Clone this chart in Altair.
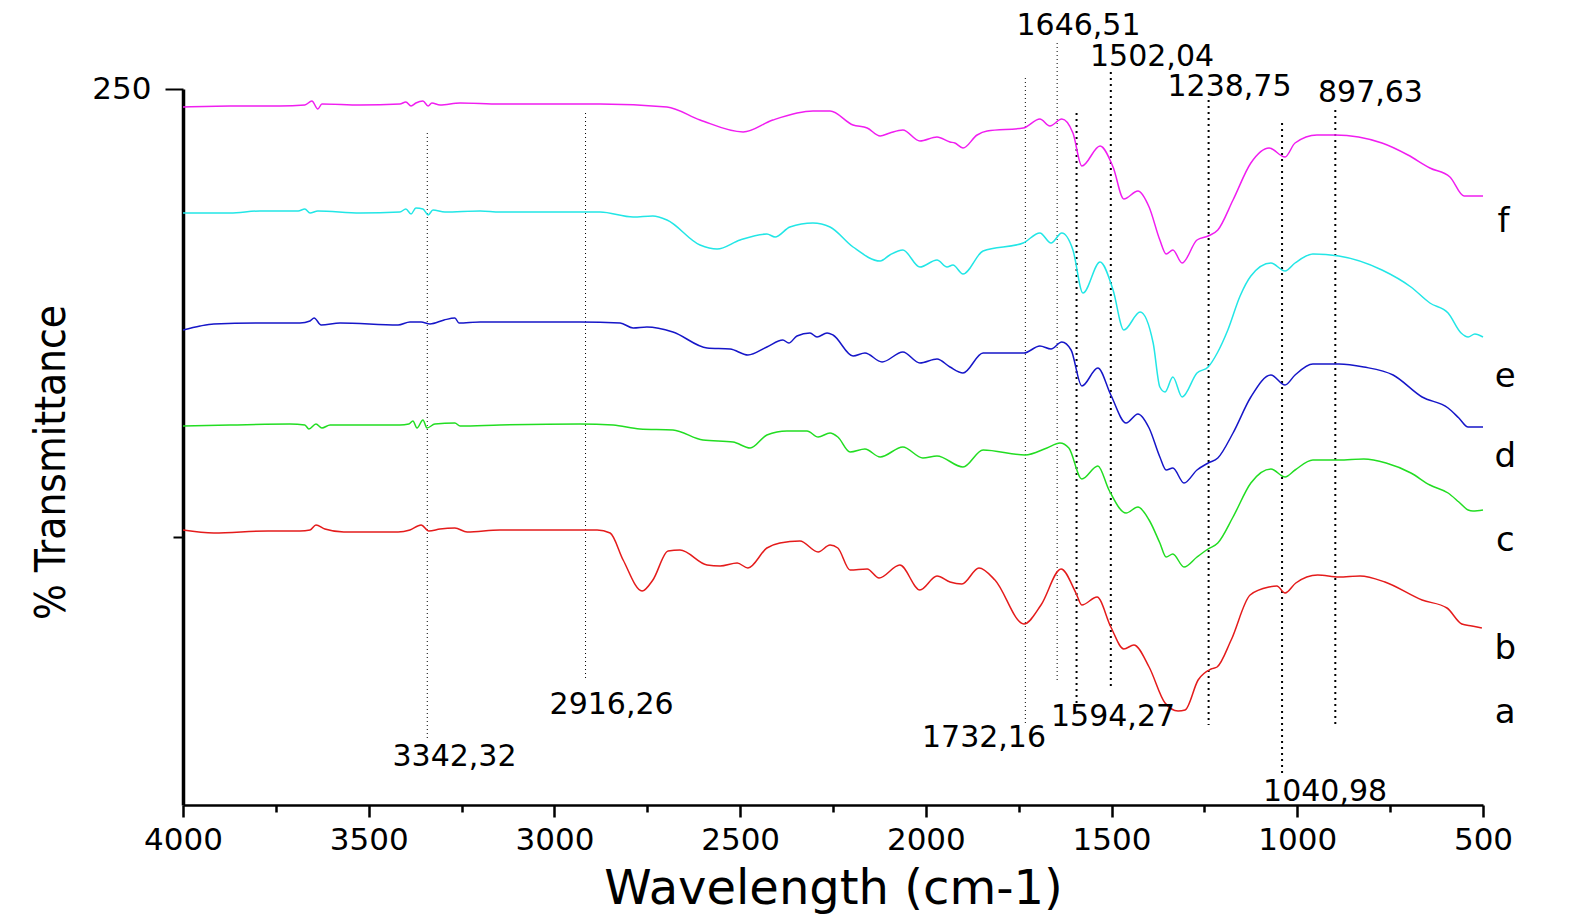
import altair as alt
import pandas as pd

# ---- FTIR spectra (wavenumber in cm-1, stacked % transmittance) ----
wn_f = [4000, 3873, 3739, 3672, 3653, 3637, 3626, 3523, 3416, 3400, 3386, 3373, 3354, 3340, 3330,
        3308, 3254, 3147, 3012, 2877, 2697, 2608, 2492, 2412, 2304, 2258, 2196, 2158, 2123, 2097,
        2062, 2016, 1970, 1935, 1922, 1900, 1862, 1835, 1738, 1693, 1666, 1634, 1604, 1580, 1531,
        1496, 1467, 1429, 1399, 1370, 1353, 1335, 1310, 1270, 1240, 1214, 1173, 1125, 1076, 1033,
        1006, 947, 898, 772, 702, 643, 589, 551, 527, 500]
t_f = [245.5, 245.75, 245.75, 246.0, 247.0, 245.0, 246.25, 246.0, 246.25, 246.75, 245.75, 246.5, 247.0,
       245.75, 246.5, 246.0, 246.5, 246.25, 246.25, 246.25, 245.5, 242.25, 239.25, 242.25, 244.5,
       244.5, 241.0, 240.25, 238.25, 239.0, 239.75, 237.0, 238.0, 236.75, 236.5, 235.25, 238.5,
       239.5, 240.25, 242.5, 240.75, 242.5, 239.0, 230.75, 235.75, 230.5, 222.5, 224.5, 220.5,
       212.25, 208.75, 209.75, 206.5, 212.25, 213.25, 214.75, 222.25, 231.5, 235.25, 233.0, 236.5,
       238.5, 238.5, 236.5, 233.5, 230.25, 228.0, 223.25, 223.25, 223.25]

wn_e = [4000, 3873, 3793, 3690, 3672, 3658, 3637, 3523, 3416, 3400, 3386, 3373, 3354, 3340, 3327,
        3295, 3200, 3147, 3012, 2877, 2788, 2735, 2697, 2608, 2562, 2500, 2428, 2406, 2366, 2304,
        2258, 2196, 2123, 2097, 2062, 2016, 1970, 1943, 1927, 1900, 1846, 1738, 1693, 1663, 1634,
        1604, 1577, 1531, 1496, 1467, 1423, 1388, 1370, 1356, 1335, 1310, 1270, 1240, 1214, 1187,
        1154, 1125, 1071, 1033, 1006, 958, 888, 772, 694, 643, 594, 559, 540, 522, 500]
t_e = [219.0, 219.0, 219.5, 219.5, 220.0, 219.0, 219.5, 219.0, 219.25, 220.0, 218.75, 220.25, 220.0,
       218.5, 219.75, 219.25, 219.5, 219.25, 219.25, 219.25, 218.0, 218.25, 217.25, 211.0, 210.0,
       212.25, 213.75, 213.0, 215.5, 216.5, 215.5, 210.5, 207.0, 208.5, 209.75, 205.5, 207.25,
       205.5, 206.0, 203.75, 209.5, 211.5, 214.0, 211.5, 214.0, 209.75, 199.0, 206.75, 199.75,
       189.75, 194.25, 186.5, 175.5, 174.25, 178.0, 173.0, 179.0, 180.5, 184.25, 189.75, 198.25,
       203.25, 206.5, 204.5, 206.5, 208.75, 208.25, 204.75, 200.5, 196.5, 194.0, 189.0, 188.0,
       188.75, 188.0]

wn_d = [4000, 3954, 3917, 3771, 3685, 3658, 3647, 3628, 3577, 3421, 3389, 3359, 3335, 3297, 3268,
        3257, 3200, 3012, 2931, 2823, 2788, 2751, 2681, 2589, 2527, 2479, 2428, 2385, 2369, 2347,
        2312, 2293, 2266, 2250, 2196, 2164, 2118, 2062, 2016, 1970, 1935, 1900, 1846, 1736, 1693,
        1663, 1634, 1609, 1580, 1537, 1502, 1461, 1429, 1399, 1370, 1353, 1335, 1305, 1270, 1240,
        1214, 1173, 1125, 1071, 1033, 1006, 958, 888, 821, 742, 664, 594, 565, 540, 500]
t_d = [189.75, 190.75, 191.25, 191.5, 191.5, 192.0, 192.75, 191.0, 191.5, 191.0, 191.75, 191.75,
       191.25, 192.25, 192.75, 191.5, 191.75, 191.75, 191.75, 191.5, 190.25, 190.5, 189.25, 185.25,
       185.0, 183.5, 185.5, 187.25, 186.5, 188.25, 189.0, 188.0, 189.0, 188.5, 183.25, 184.0,
       181.75, 184.25, 181.5, 182.5, 180.5, 179.0, 184.0, 184.0, 185.75, 185.0, 186.75, 184.75,
       175.75, 180.25, 173.5, 166.5, 168.75, 165.25, 158.0, 154.75, 155.25, 151.5, 154.75, 156.5,
       157.75, 164.0, 173.0, 178.5, 176.0, 178.5, 181.25, 181.25, 180.5, 178.5, 173.0, 170.25,
       167.75, 165.5, 165.5]

wn_c = [4000, 3873, 3712, 3672, 3661, 3642, 3626, 3604, 3416, 3392, 3381, 3370, 3354, 3343, 3322,
        3268, 3254, 3147, 2931, 2842, 2770, 2681, 2600, 2519, 2473, 2428, 2374, 2320, 2290, 2258,
        2237, 2204, 2164, 2123, 2062, 2008, 1970, 1900, 1846, 1733, 1674, 1639, 1615, 1580, 1537,
        1507, 1461, 1429, 1399, 1370, 1353, 1335, 1305, 1270, 1240, 1214, 1173, 1125, 1071, 1033,
        1006, 958, 888, 821, 761, 694, 643, 594, 565, 540, 527, 500]
t_c = [165.75, 166.0, 166.25, 166.0, 165.0, 166.25, 165.25, 166.0, 166.0, 166.25, 167.0, 165.25,
       167.25, 165.25, 166.25, 166.5, 165.75, 166.0, 166.25, 166.0, 165.0, 164.75, 162.25, 161.75,
       160.25, 163.5, 164.5, 164.5, 163.0, 164.0, 163.0, 159.25, 160.0, 158.0, 160.5, 157.75,
       158.25, 155.5, 159.75, 158.5, 160.25, 161.5, 160.25, 152.5, 155.75, 149.75, 144.0, 145.5,
       142.25, 136.5, 133.0, 133.75, 130.5, 133.0, 135.0, 136.5, 143.0, 151.5, 155.0, 153.0,
       154.75, 157.25, 157.25, 157.5, 156.5, 154.0, 151.0, 149.0, 146.75, 144.75, 144.5, 144.75]

wn_b = [4000, 3917, 3771, 3685, 3658, 3642, 3618, 3567, 3421, 3389, 3359, 3338, 3308, 3268, 3235,
        3147, 2885, 2850, 2815, 2764, 2735, 2694, 2662, 2589, 2554, 2508, 2479, 2428, 2393, 2339,
        2290, 2258, 2237, 2204, 2158, 2126, 2070, 2016, 1970, 1935, 1903, 1857, 1814, 1736, 1690,
        1636, 1596, 1580, 1539, 1502, 1467, 1440, 1399, 1356, 1321, 1302, 1267, 1232, 1216, 1178,
        1127, 1076, 1055, 1033, 1004, 945, 888, 831, 764, 664, 597, 557, 530, 503]
t_b = [139.75, 139.0, 139.5, 139.5, 139.75, 141.0, 140.0, 139.25, 139.25, 139.75, 141.0, 139.5,
       140.0, 140.25, 139.25, 139.75, 139.75, 139.0, 132.25, 124.5, 127.25, 134.5, 134.75, 131.0,
       130.75, 131.5, 130.25, 135.25, 136.5, 137.0, 134.25, 136.0, 135.25, 129.75, 130.0, 127.75,
       131.0, 124.75, 128.25, 126.75, 126.25, 130.25, 127.25, 116.25, 121.0, 130.0, 124.0, 121.0,
       123.0, 115.5, 110.0, 111.0, 105.5, 96.5, 94.5, 94.75, 102.25, 105.0, 105.5, 112.25, 123.5,
       125.5, 125.75, 124.0, 126.5, 128.5, 128.0, 128.25, 126.75, 122.25, 120.25, 116.25, 115.75,
       115.25]

series_names = ["f", "e", "d", "c", "b"]
series_colors = ["#f01ef0", "#22e6e6", "#1616c8", "#22dd22", "#e41b1b"]

# ---- peak markers ----
fine_wn = [3342.32, 2916.26, 1732.16, 1646.51]
fine_top = [239.0, 244.0, 252.75, 261.5]
fine_bottom = [87.75, 102.25, 91.5, 102.25]

bold_wn = [1594.27, 1502.04, 1238.75, 1040.98, 897.63]
bold_top = [244.0, 254.25, 247.25, 241.5, 244.75]
bold_bottom = [96.0, 100.25, 91.0, 79.0, 90.5]

peak_text = ["3342,32", "2916,26", "1732,16", "1646,51", "1594,27",
             "1502,04", "1238,75", "1040,98", "897,63"]
peak_text_wn = [3269, 2846, 1843.5, 1589, 1496, 1391, 1182.5, 925, 803]
peak_text_t = [83.0, 96.0, 87.75, 265.75, 93.0, 258.0, 250.5, 74.25, 249.0]

# ---- sample letters at the right ----
letters = ["f", "e", "d", "c", "b", "a"]
letter_wn = [445, 440, 440, 440, 440, 440]
letter_t = [216.75, 178.0, 158.0, 137.0, 110.0, 94.0]

frames = []
for name, wn, t in zip(series_names, [wn_f, wn_e, wn_d, wn_c, wn_b],
                       [t_f, t_e, t_d, t_c, t_b]):
    frames.append(pd.DataFrame({"wn": wn, "t": t, "sample": name}))
spectra = pd.concat(frames, ignore_index=True)

fine_df = pd.DataFrame({"wn": fine_wn, "top": fine_top, "bottom": fine_bottom})
bold_df = pd.DataFrame({"wn": bold_wn, "top": bold_top, "bottom": bold_bottom})
peak_df = pd.DataFrame({"wn": peak_text_wn, "t": peak_text_t, "label": peak_text})
letter_df = pd.DataFrame({"wn": letter_wn, "t": letter_t, "letter": letters})

FONT = "DejaVu Sans"

x_scale = alt.Scale(domain=[4000, 500], nice=False, zero=False)
y_scale = alt.Scale(domain=[71, 250], nice=False, zero=False)

x_axis = alt.Axis(
    title="Wavelength (cm-1)",
    values=list(range(500, 4001, 250)),
    labelExpr="datum.value % 500 == 0 ? datum.label : ''",
    format="d",
    grid=False,
    domainColor="black",
    domainWidth=2.5,
    tickColor="black",
    tickWidth=2.5,
    tickSize={"condition": {"test": "datum.value % 500 == 0", "value": 12}, "value": 7},
    labelFont=FONT,
    labelFontSize=31,
    labelColor="black",
    labelPadding=8,
    labelFlush=False,
    labelOverlap=False,
    titleFont=FONT,
    titleFontSize=48,
    titleFontWeight="normal",
    titleColor="black",
    titleBaseline="alphabetic",
    titleX=650,
    titleY=98,
)

y_axis = alt.Axis(
    title="% Transmittance",
    values=[138, 250],
    labelExpr="datum.value == 250 ? '250' : ''",
    grid=False,
    domainColor="black",
    domainWidth=3.5,
    tickColor="black",
    tickWidth=2,
    tickSize={"condition": {"test": "datum.value == 250", "value": 18}, "value": 10},
    labelFont=FONT,
    labelFontSize=31,
    labelColor="black",
    labelPadding=14,
    titleFont="Liberation Sans Narrow, DejaVu Sans Condensed, Liberation Sans",
    titleFontSize=42,
    titleFontWeight="normal",
    titleColor="black",
    titleBaseline="alphabetic",
    titleAngle=270,
    titleX=-119,
    titleY=373,
)

lines = alt.Chart(spectra).mark_line(strokeWidth=1.5, interpolate="monotone").encode(
    x=alt.X("wn:Q", scale=x_scale, axis=x_axis),
    y=alt.Y("t:Q", scale=y_scale, axis=y_axis),
    color=alt.Color("sample:N", scale=alt.Scale(domain=series_names, range=series_colors),
                    legend=None),
    detail="sample:N",
)

fine_rules = alt.Chart(fine_df).mark_rule(
    color="black", strokeWidth=1, strokeDash=[1, 3]
).encode(x="wn:Q", y="top:Q", y2="bottom:Q")

bold_rules = alt.Chart(bold_df).mark_rule(
    color="black", strokeWidth=2, strokeDash=[2, 4]
).encode(x="wn:Q", y="top:Q", y2="bottom:Q")

peak_labels = alt.Chart(peak_df).mark_text(
    font=FONT, fontSize=30, color="black", align="center", baseline="middle"
).encode(x="wn:Q", y="t:Q", text="label:N")

letter_labels = alt.Chart(letter_df).mark_text(
    font=FONT, fontSize=34, color="black", align="center", baseline="middle"
).encode(x="wn:Q", y="t:Q", text="letter:N")

chart = alt.layer(fine_rules, bold_rules, lines, peak_labels, letter_labels).properties(
    width=1300,
    height=716,
    background="white",
    autosize=alt.AutoSizeParams(type="none"),
    padding={"left": 183, "top": 89, "right": 88, "bottom": 118},
).configure_view(stroke="transparent", strokeWidth=0)

chart.save("out.html", embed_options={"renderer": "svg", "actions": False})
